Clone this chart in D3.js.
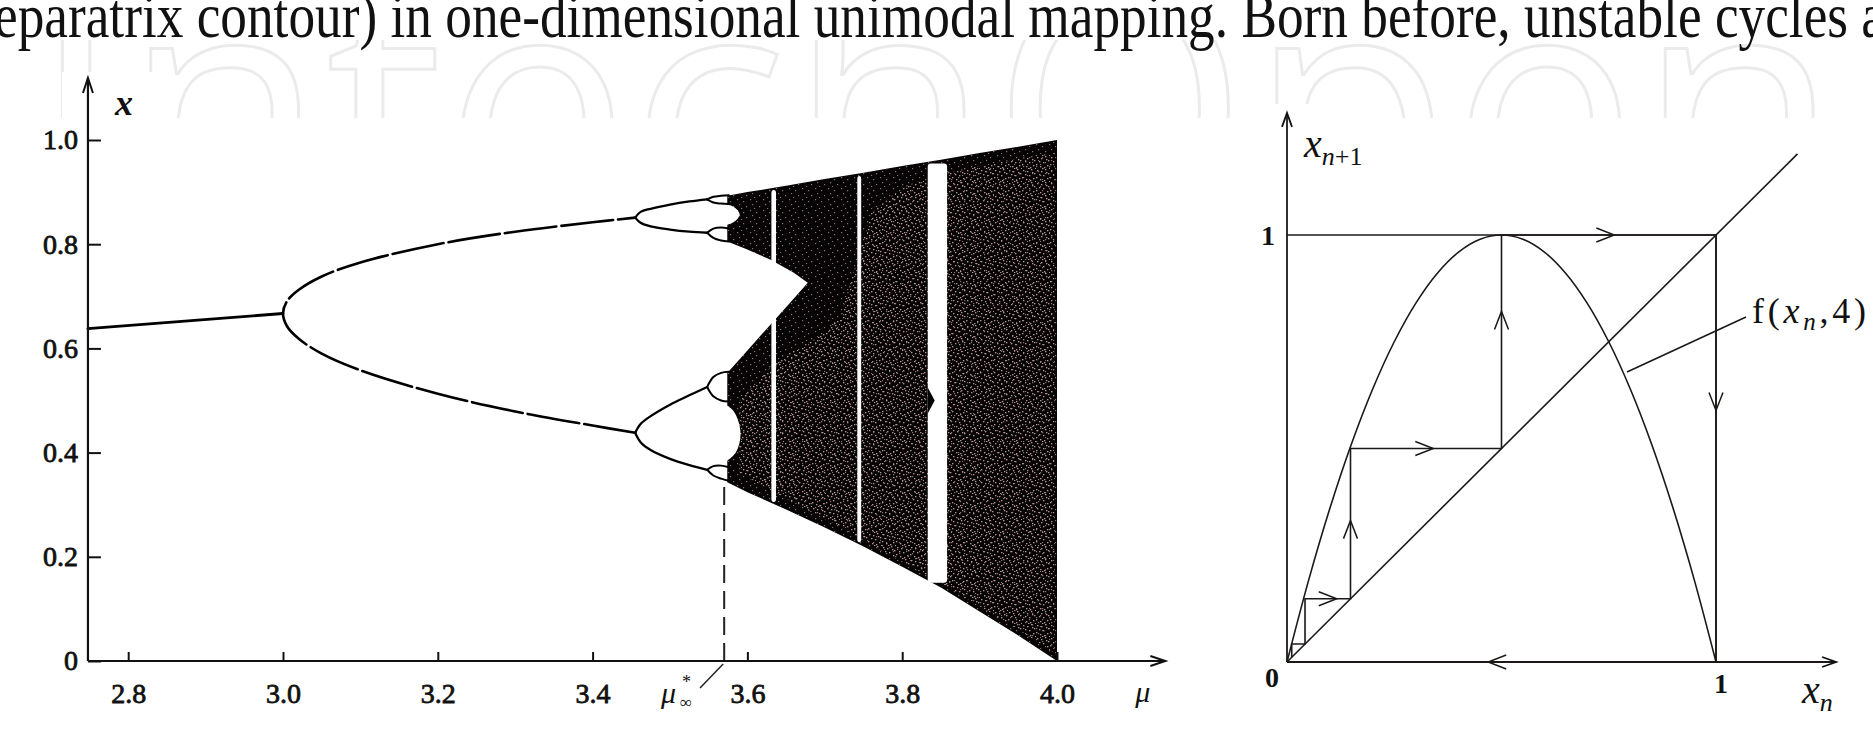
<!doctype html>
<html lang="en">
<head>
<meta charset="utf-8">
<title>Logistic map: bifurcation diagram and cobweb</title>
<script src="https://d3js.org/d3.v7.min.js"></script>
<style>
  body { margin: 0; background: #fff; }
  svg { display: block; }
  .ax path.domain { display: none; }
  .ax line { stroke: #111; stroke-width: 2; }
  .serif { font-family: "Liberation Serif", "DejaVu Serif", serif; fill: #111; }
</style>
</head>
<body>
<div id="fig"></div>
<script>
// ---- left panel: bifurcation diagram ----
var xTicks = [2.8, 3.0, 3.2, 3.4, 3.6, 3.8, 4.0];
var xTickLabels = ["2.8", "3.0", "3.2", "3.4", "3.6", "3.8", "4.0"];
var yTicks = [0, 0.2, 0.4, 0.6, 0.8, 1.0];
var yTickLabels = ["0", "0.2", "0.4", "0.6", "0.8", "1.0"];

var fixedMu = [2.748, 3.0];
var fixedX = [0.638, 0.667];

// period 2: lower branch back to 3.0, then the upper branch
var p2Mu = [3.455, 3.40, 3.30, 3.20, 3.10, 3.05, 3.02, 3.005, 3.0, 3.005, 3.02, 3.05, 3.10, 3.20, 3.30, 3.40, 3.455];
var p2X = [0.438, 0.452, 0.479, 0.513, 0.558, 0.590, 0.619, 0.643, 0.667, 0.690, 0.712, 0.738, 0.765, 0.800, 0.824, 0.842, 0.851];

// period 4
var p4Mu = [3.455, 3.462, 3.475, 3.50, 3.525, 3.548];
var p4a = [0.851, 0.862, 0.868, 0.876, 0.882, 0.886];
var p4b = [0.851, 0.841, 0.834, 0.828, 0.824, 0.822];
var p4c = [0.438, 0.455, 0.470, 0.492, 0.510, 0.526];
var p4d = [0.438, 0.420, 0.405, 0.388, 0.376, 0.367];

// period 8 (small loops)
var p8Mu = [3.548, 3.556, 3.566, 3.576];
var p8Hi = [[0.886, 0.891, 0.893, 0.894], [0.822, 0.830, 0.832, 0.830], [0.526, 0.545, 0.553, 0.555], [0.367, 0.374, 0.375, 0.372]];
var p8Lo = [[0.886, 0.880, 0.878, 0.877], [0.822, 0.812, 0.807, 0.805], [0.526, 0.508, 0.500, 0.498], [0.367, 0.356, 0.350, 0.346]];

// chaotic region envelope
var chaosMu = [3.574, 3.60, 3.65, 3.70, 3.75, 3.80, 3.85, 3.90, 3.95, 4.0];
var chaosTop = [0.893, 0.900, 0.912, 0.925, 0.937, 0.950, 0.962, 0.975, 0.987, 1.0];
var chaosBot = [0.343, 0.324, 0.291, 0.256, 0.220, 0.181, 0.141, 0.095, 0.049, 0.0];

// white gap between the two bands
var wedgeMu = [3.560, 3.574, 3.60, 3.63, 3.66, 3.678, 3.66, 3.63, 3.60, 3.574, 3.560];
var wedgeX = [0.805, 0.805, 0.790, 0.770, 0.745, 0.726, 0.696, 0.646, 0.596, 0.553, 0.553];

// white parts of the period-4 loops reaching into the band
var bulgeUpMu = [3.566, 3.582, 3.590, 3.582, 3.566];
var bulgeUpX = [0.877, 0.872, 0.857, 0.842, 0.834];
var bulgeLoMu = [3.566, 3.582, 3.591, 3.585, 3.566];
var bulgeLoX = [0.497, 0.480, 0.440, 0.400, 0.376];

// periodic windows
var winMu0 = [3.631, 3.742, 3.833];
var winMu1 = [3.637, 3.747, 3.858];
var winTop = [0.904, 0.931, 0.955];
var winBot = [0.305, 0.228, 0.150];
var pinchMu = [3.833, 3.842, 3.833];
var pinchX = [0.525, 0.500, 0.475];

// lighter, speckled part of the chaotic band
var denseMu = [3.59, 3.64, 3.69, 3.72, 3.76, 3.80, 3.85, 3.90, 3.95, 3.997];
var denseTop = [0.50, 0.58, 0.62, 0.66, 0.86, 0.91, 0.935, 0.95, 0.965, 0.975];
var denseBot = [0.36, 0.32, 0.28, 0.258, 0.222, 0.19, 0.15, 0.105, 0.06, 0.015];

var muInf = 3.570, muInfTop = 0.343;
var muAxisMin = 2.748, muArrow = 4.14, xArrowL = 1.119;

// ---- right panel: cobweb of f(x,4) ----
var mapX = [0, 0.05, 0.1, 0.15, 0.2, 0.25, 0.3, 0.35, 0.4, 0.45, 0.5, 0.55, 0.6, 0.65, 0.7, 0.75, 0.8, 0.85, 0.9, 0.95, 1.0];
var mapY = [0, 0.19, 0.36, 0.51, 0.64, 0.75, 0.84, 0.91, 0.96, 0.99, 1.0, 0.99, 0.96, 0.91, 0.84, 0.75, 0.64, 0.51, 0.36, 0.19, 0];
var webX = [0.011, 0.011, 0.042, 0.042, 0.148, 0.148, 0.5, 0.5, 1, 1];
var webY = [0.011, 0.042, 0.042, 0.148, 0.148, 0.5, 0.5, 1, 1, 0];
var arrowX = [0.742, 0.32, 0.095, 0.5, 0.148, 1.0, 0.49];
var arrowY = [1.0, 0.5, 0.148, 0.80, 0.31, 0.61, 0.0];
var arrowDir = ["right", "right", "right", "up", "up", "down", "left"];
var diagEnd = 1.19, xArrowR = 1.28, yArrowR = 1.286;

var headerText = "eparatrix contour) in one-dimensional unimodal mapping. Born before, unstable cycles a";

(function () {
  var width = 1873, height = 730;
  var serif = "'Liberation Serif', 'DejaVu Serif', serif";
  var svg = d3.select("#fig").append("svg")
    .attr("width", width).attr("height", height)
    .style("background", "#fff");

  var defs = svg.append("defs");

  // speckle textures
  var sparse = defs.append("pattern").attr("id", "specA")
    .attr("patternUnits", "userSpaceOnUse").attr("width", 13).attr("height", 11);
  [[2, 3], [9, 1], [5, 8], [11, 6], [0, 10]].forEach(function (p) {
    sparse.append("rect").attr("x", p[0]).attr("y", p[1]).attr("width", 1.2).attr("height", 1.2).attr("fill", "#8c6f6f");
  });
  var dense = defs.append("pattern").attr("id", "specB")
    .attr("patternUnits", "userSpaceOnUse").attr("width", 14).attr("height", 13);
  [[1, 1], [5, 2], [9, 0], [12, 4], [3, 5], [7, 6], [11, 9], [0, 8], [4, 10], [8, 11], [13, 12], [6, 12], [10, 3]].forEach(function (p) {
    dense.append("rect").attr("x", p[0]).attr("y", p[1]).attr("width", 1.4).attr("height", 1.3).attr("fill", "#b39393");
  });

  // watermark
  defs.append("clipPath").attr("id", "wmClip")
    .append("rect").attr("x", 0).attr("y", 40).attr("width", width).attr("height", 78);
  svg.append("text").attr("clip-path", "url(#wmClip)")
    .attr("x", 30).attr("y", 225)
    .attr("textLength", 1810).attr("lengthAdjust", "spacingAndGlyphs")
    .style("font-family", "'Open Sans', sans-serif").style("font-size", "330px")
    .attr("fill", "none").attr("stroke", "#ebebeb").attr("stroke-width", 3)
    .text("IntechOpen");
  svg.append("rect").attr("x", 62).attr("y", 72).attr("width", 95).attr("height", 48).attr("fill", "#fff");
  svg.append("rect").attr("x", 1268).attr("y", 104).attr("width", 40).attr("height", 16).attr("fill", "#fff");

  svg.append("text").attr("class", "serif")
    .attr("x", -6).attr("y", 37)
    .attr("textLength", 1891).attr("lengthAdjust", "spacingAndGlyphs")
    .style("font-size", "63px").attr("fill", "#1a1a1a")
    .text(headerText);

  // ===== left panel =====
  var xL = d3.scaleLinear().domain([3.0, 4.0]).range([283, 1057]);
  var yL = d3.scaleLinear().domain([0, 1]).range([661, 140]);
  var left = svg.append("g");

  var area = d3.area()
    .x(function (d) { return xL(d[0]); })
    .y0(function (d) { return yL(d[1]); })
    .y1(function (d) { return yL(d[2]); });
  var chaosData = chaosMu.map(function (m, i) { return [m, chaosBot[i], chaosTop[i]]; });

  defs.append("clipPath").attr("id", "chaosClip")
    .append("path").attr("d", area(chaosData));

  left.append("path").attr("d", area(chaosData)).attr("fill", "#050303");
  left.append("path").attr("d", area(chaosData)).attr("fill", "url(#specA)");
  left.append("path")
    .attr("d", area(denseMu.map(function (m, i) { return [m, denseBot[i], denseTop[i]]; })))
    .attr("clip-path", "url(#chaosClip)")
    .attr("fill", "url(#specB)");

  var poly = d3.line()
    .x(function (d) { return xL(d[0]); })
    .y(function (d) { return yL(d[1]); });
  var smooth = d3.line()
    .x(function (d) { return xL(d[0]); })
    .y(function (d) { return yL(d[1]); })
    .curve(d3.curveCatmullRom);
  function pairs(mu, xs) { return mu.map(function (m, i) { return [m, xs[i]]; }); }

  left.append("path").attr("d", poly(pairs(wedgeMu, wedgeX)) + "Z").attr("fill", "#fff");
  left.append("path").attr("d", smooth(pairs(bulgeUpMu, bulgeUpX)) + "Z").attr("fill", "#fff");
  left.append("path").attr("d", smooth(pairs(bulgeLoMu, bulgeLoX)) + "Z").attr("fill", "#fff");

  left.selectAll("rect.win").data(winMu0).enter().append("rect")
    .attr("class", "win")
    .attr("x", function (d) { return xL(d); })
    .attr("width", function (d, i) { return xL(winMu1[i]) - xL(d); })
    .attr("y", function (d, i) { return yL(winTop[i]); })
    .attr("height", function (d, i) { return yL(winBot[i]) - yL(winTop[i]); })
    .attr("rx", 3)
    .attr("fill", "#fff");
  left.append("path").attr("d", poly(pairs(pinchMu, pinchX)) + "Z").attr("fill", "#050303");

  // stable orbits
  var lineStyle = function (sel, w) {
    return sel.attr("fill", "none").attr("stroke", "#000").attr("stroke-width", w)
      .attr("stroke-linejoin", "round").attr("stroke-linecap", "round");
  };
  lineStyle(left.append("path").attr("d", poly(pairs(fixedMu, fixedX))), 2.8);
  lineStyle(left.append("path").attr("d", smooth(pairs(p2Mu, p2X))), 2.6)
    .attr("stroke-dasharray", "52 5");
  [p4a, p4b, p4c, p4d].forEach(function (b) {
    lineStyle(left.append("path").attr("d", smooth(pairs(p4Mu, b))), 2.3);
  });
  p8Hi.forEach(function (b, i) {
    lineStyle(left.append("path").attr("d", smooth(pairs(p8Mu, b))), 2);
    lineStyle(left.append("path").attr("d", smooth(pairs(p8Mu, p8Lo[i]))), 2);
  });

  // mu_infinity marker
  left.append("line")
    .attr("x1", xL(muInf)).attr("x2", xL(muInf))
    .attr("y1", yL(0)).attr("y2", yL(muInfTop))
    .attr("stroke", "#222").attr("stroke-width", 2).attr("stroke-dasharray", "18 8");

  // axes
  function styleTicks(g) {
    g.selectAll("text")
      .style("font-family", serif).style("font-size", "28px")
      .attr("fill", "#111").attr("stroke", "#111").attr("stroke-width", 0.8);
  }
  left.append("g").attr("class", "ax")
    .attr("transform", "translate(0," + yL(0) + ")")
    .call(d3.axisBottom(xL).tickValues(xTicks)
      .tickFormat(function (d, i) { return xTickLabels[i]; })
      .tickSizeInner(-9).tickSizeOuter(0).tickPadding(22))
    .call(styleTicks);
  left.append("g").attr("class", "ax")
    .attr("transform", "translate(" + xL(muAxisMin) + ",0)")
    .call(d3.axisLeft(yL).tickValues(yTicks)
      .tickFormat(function (d, i) { return yTickLabels[i]; })
      .tickSizeInner(-13).tickSizeOuter(0).tickPadding(10))
    .call(styleTicks);

  function axisArrow(g, x, y, ang, len, half, w) {
    g.append("path").attr("d", "M" + (-len) + "," + (-half) + "L0,0L" + (-len) + "," + half)
      .attr("transform", "translate(" + x + "," + y + ") rotate(" + ang + ")")
      .attr("fill", "none").attr("stroke", "#111").attr("stroke-width", w)
      .attr("stroke-linejoin", "miter");
  }
  left.append("line").attr("x1", xL(muAxisMin)).attr("x2", xL(muArrow))
    .attr("y1", yL(0)).attr("y2", yL(0)).attr("stroke", "#111").attr("stroke-width", 2.2);
  left.append("line").attr("x1", xL(muAxisMin)).attr("x2", xL(muAxisMin))
    .attr("y1", yL(0)).attr("y2", yL(xArrowL)).attr("stroke", "#111").attr("stroke-width", 2.2);
  axisArrow(left, xL(muArrow), yL(0), 0, 15, 5, 2);
  axisArrow(left, xL(muAxisMin), yL(xArrowL), -90, 15, 5, 2);

  left.append("text").attr("class", "serif")
    .attr("x", xL(muAxisMin) + 27).attr("y", 115)
    .style("font-size", "36px").style("font-style", "italic").style("font-weight", "bold")
    .text("x");
  left.append("text").attr("class", "serif")
    .attr("x", xL(muArrow) - 30).attr("y", 702)
    .style("font-size", "30px").style("font-style", "italic")
    .text("μ");

  var lab = left.append("text").attr("class", "serif").attr("x", 661).attr("y", 703)
    .style("font-size", "30px").style("font-style", "italic");
  lab.append("tspan").text("μ");
  lab.append("tspan").attr("x", 682).attr("y", 688).style("font-size", "18px").style("font-style", "normal").text("*");
  lab.append("tspan").attr("x", 680).attr("y", 708).style("font-size", "17px").style("font-style", "normal").text("∞");
  left.append("line").attr("x1", 700).attr("y1", 688).attr("x2", xL(muInf) - 1).attr("y2", yL(0) + 3)
    .attr("stroke", "#222").attr("stroke-width", 1.5);

  // ===== right panel =====
  var xR = d3.scaleLinear().domain([0, 1]).range([1287, 1716]);
  var yR = d3.scaleLinear().domain([0, 1]).range([662, 235]);
  var right = svg.append("g");
  var ink = "#1c1818";

  function seg(x1, y1, x2, y2, w) {
    right.append("line")
      .attr("x1", xR(x1)).attr("y1", yR(y1)).attr("x2", xR(x2)).attr("y2", yR(y2))
      .attr("stroke", ink).attr("stroke-width", w || 1.6);
  }
  // axes
  seg(0, 0, xArrowR, 0, 1.8);
  seg(0, 0, 0, yArrowR, 1.8);
  axisArrow(right, xR(xArrowR), yR(0), 0, 14, 5, 1.8);
  axisArrow(right, xR(0), yR(yArrowR), -90, 14, 5, 1.8);
  // box and diagonal
  seg(0, 1, 1, 1);
  seg(1, 1, 1, 0);
  seg(0, 0, diagEnd, diagEnd);

  right.append("path")
    .attr("d", d3.line().curve(d3.curveCatmullRom)
      .x(function (d) { return xR(d[0]); }).y(function (d) { return yR(d[1]); })(
      mapX.map(function (x, i) { return [x, mapY[i]]; })))
    .attr("fill", "none").attr("stroke", ink).attr("stroke-width", 1.6);
  right.append("path")
    .attr("d", d3.line().x(function (d) { return xR(d[0]); }).y(function (d) { return yR(d[1]); })(
      webX.map(function (x, i) { return [x, webY[i]]; })))
    .attr("fill", "none").attr("stroke", ink).attr("stroke-width", 1.6);

  var angles = { right: 0, down: 90, left: 180, up: -90 };
  arrowX.forEach(function (x, i) {
    var a = angles[arrowDir[i]];
    var dx = Math.cos(a * Math.PI / 180) * 9, dy = Math.sin(a * Math.PI / 180) * 9;
    right.append("path").attr("d", "M-18,-7L0,0L-18,7")
      .attr("transform", "translate(" + (xR(x) + dx) + "," + (yR(arrowY[i]) + dy) + ") rotate(" + a + ")")
      .attr("fill", "none").attr("stroke", ink).attr("stroke-width", 1.5);
  });

  // labels
  var bold = function (t, x, y) {
    right.append("text").attr("class", "serif").attr("x", x).attr("y", y)
      .attr("text-anchor", "middle")
      .style("font-size", "28px").style("font-weight", "bold").text(t);
  };
  bold("1", xR(0) - 19, yR(1) + 10);
  bold("0", xR(0) - 15, yR(0) + 25);
  bold("1", xR(1) + 5, yR(0) + 31);

  var yl = right.append("text").attr("class", "serif").attr("x", xR(0) + 17).attr("y", 157)
    .style("font-size", "40px").style("font-style", "italic");
  yl.append("tspan").text("x");
  yl.append("tspan").attr("dy", 8).style("font-size", "26px").text("n");
  yl.append("tspan").style("font-size", "26px").style("font-style", "normal").text("+1");

  var xl = right.append("text").attr("class", "serif").attr("x", 1802).attr("y", 703)
    .style("font-size", "40px").style("font-style", "italic");
  xl.append("tspan").text("x");
  xl.append("tspan").attr("dy", 8).style("font-size", "26px").text("n");

  var fl = right.append("text").attr("class", "serif").attr("x", 1752).attr("y", 323)
    .attr("textLength", 114).attr("lengthAdjust", "spacing")
    .style("font-size", "36px");
  fl.append("tspan").text("f(");
  fl.append("tspan").style("font-style", "italic").text("x");
  fl.append("tspan").attr("dy", 7).style("font-size", "25px").style("font-style", "italic").text("n");
  fl.append("tspan").attr("dy", -7).text(",4)");
  right.append("line").attr("x1", 1746).attr("y1", 317).attr("x2", 1627).attr("y2", 372)
    .attr("stroke", ink).attr("stroke-width", 1.6);
})();
</script>
</body>
</html>
